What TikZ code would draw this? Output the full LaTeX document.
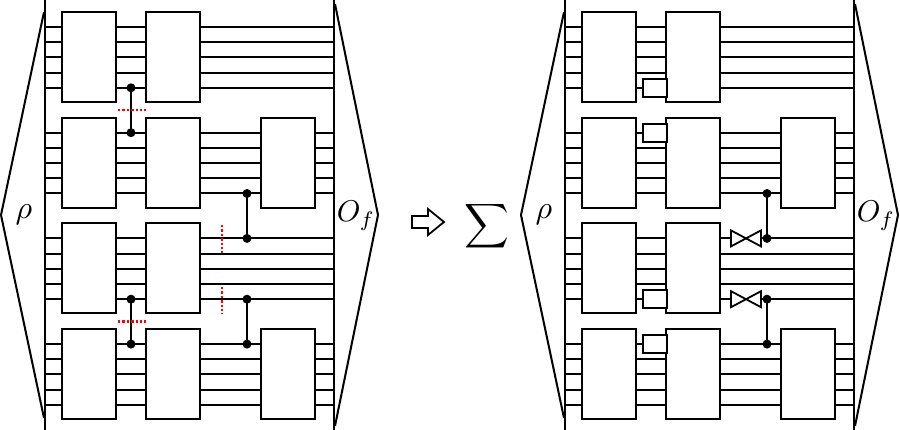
\documentclass[tikz,border=0pt]{standalone}
\usepackage{graphicx}
\begin{document}
\begin{tikzpicture}[x=1pt,y=-1pt,line width=2pt,
  gate/.style={draw,fill=white},
  dotc/.style={fill=black,draw=none,circle,minimum size=9pt,inner sep=0pt},
  cut/.style={red,dotted,line width=2.4pt}]
\useasboundingbox (0,0) rectangle (900,430);
\foreach \ox/\sub in {0/0,520/1}{
 \begin{scope}[xshift=\ox]
  % brackets
  \draw (45,0) -- (45,430);
  \draw (44,12) -- (1,215) -- (44,418);
  \draw (334,0) -- (334,430);
  \draw (335,4) -- (378,215) -- (335,426);
  % wires
  \foreach \g in {0,...,3}{\foreach \k in {0,...,4}{
    \draw (45,{27+105.7*\g+15.2*\k}) -- (334,{27+105.7*\g+15.2*\k});}}
  % gates
  \foreach \g in {0,...,3}{
    \draw[gate] (62,{12+105.7*\g}) rectangle (116,{102+105.7*\g});
    \draw[gate] (146,{12+105.7*\g}) rectangle (200,{102+105.7*\g});}
  \foreach \g in {1,3}{
    \draw[gate] (261,{12+105.7*\g}) rectangle (315,{102+105.7*\g});}
  \node at (24,215) {\scalebox{3.2}{$\rho$}};
  \node at (356,216) {\scalebox{3}{$O_f$}};
 \end{scope}}
% left circuit couplings
\foreach \ya/\yb in {87.8/132.7,299.2/344.1}{
  \draw (131,\ya) node[dotc]{} -- (131,\yb) node[dotc]{};
  \draw[cut] (118,{(\ya+\yb)/2}) -- (146,{(\ya+\yb)/2});}
\foreach \ya/\yb in {193.5/238.4,299.2/344.1}{
  \draw (247,\ya) node[dotc]{} -- (247,\yb) node[dotc]{};}
\draw[cut] (222,225) -- (222,253);
\draw[cut] (222,287) -- (222,314);
% right circuit
\foreach \y in {87.8,132.7,299.2,344.1}{
  \draw[gate] (643,{\y-9}) rectangle (667,{\y+9});}
\foreach \ya/\yb in {193.5/238.4,299.2/344.1}{
  \draw (767,\ya) node[dotc]{} -- (767,\yb) node[dotc]{};}
\foreach \y in {238.4,299.2}{
  \draw[gate,line width=1.8pt] (731,{\y-8}) -- (746,\y) -- (731,{\y+8}) -- cycle;
  \draw[gate,line width=1.8pt] (761,{\y-8}) -- (746,\y) -- (761,{\y+8}) -- cycle;}
% arrow and sum
\draw[line width=1.8pt,fill=white] (412,216) -- (428,216) -- (428,209) -- (444,222) -- (428,235) -- (428,228) -- (412,228) -- cycle;
\node at (487,226) {\scalebox{3.1}{$\displaystyle\sum$}};
\end{tikzpicture}
\end{document}
